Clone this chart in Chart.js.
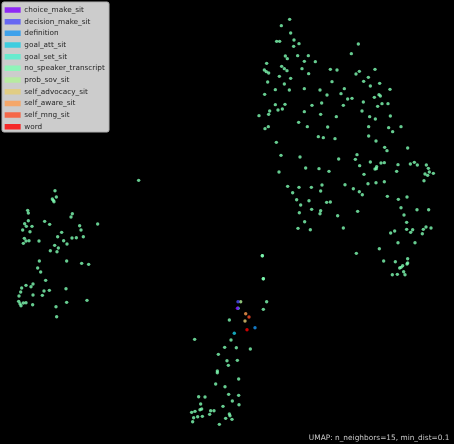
<!DOCTYPE html>
<html>
<head>
<meta charset="utf-8">
<script src="https://cdn.jsdelivr.net/npm/chart.js@4"></script>
<style>
html, body { margin: 0; padding: 0; background: #000; }
#wrap { width: 454px; height: 444px; }
</style>
</head>
<body>
<div id="wrap"><canvas id="umap"></canvas></div>
<script>
const categories = ['choice_make_sit', 'decision_make_sit', 'definition', 'goal_att_sit', 'goal_set_sit',
    'no_speaker_transcript', 'prob_sov_sit', 'self_advocacy_sit', 'self_aware_sit', 'self_mng_sit', 'word'];
const colors = ['#8000ff', '#4d4dfb', '#1996f3', '#18cde4', '#4df3ce', '#80ffb4', '#b2f396', '#e6cd73', '#ff9e50', '#ff4f28', '#ff0000'];

const choiceMake = [[237.4, 308.3]];
const decisionMake = [[238, 301.7]];
const definition = [[255, 327.7]];
const goalAtt = [[234.3, 333.3]];
const goalSet = [[238.1, 308.3]];
const probSov = [[240.7, 301.7]];
const selfAdvocacy = [[245, 321]];
const selfAware = [[245.7, 313.7]];
const selfMng = [[249, 317]];
const word = [[247, 329.7]];

const crop2 = [[119,58],[94,77],[122,99],[80,124],[89,124],[132,120],[147,131],[131,139],[325,132],[304,161],[106,168],[112,176],[143,167],[175,167],[163,184],[196,185],[50,190],[95,199],[103,206],[111,212],[156,206],[176,221],[43,210],[49,215],[56,219],[241,208],[261,210],[375,208],[328,214],[318,222],[88,229],[122,235],[355,232],[341,244],[53,246],[246,245],[103,252],[389,250],[361,258],[76,269],[118,270],[163,266],[210,270],[283,266],[420,268],[44,283],[231,285],[273,281],[387,284],[391,288],[373,292],[293,297],[306,295],[340,306],[215,309],[76,314],[105,313],[186,316],[280,316],[396,311],[414,311],[383,319],[97,327],[84,330],[59,333],[56,343],[27,347],[163,335],[212,343],[336,333],[259,350],[359,350],[421,348],[376,357],[146,367],[55,380],[45,386],[172,380],[233,381],[356,380],[416,383],[453,380],[428,395],[205,410],[220,413],[255,416],[356,408],[378,423],[79,427],[404,442],[473,444]];
const crop3 = [[411,32],[93,46],[150,51],[266,57],[321,44],[316,58],[361,66],[393,69],[403,68],[444,74],[481,72],[493,67],[502,75],[529,75],[535,85],[329,77],[380,80],[375,87],[379,86],[167,84],[207,86],[237,94],[87,96],[342,103],[440,94],[538,96],[550,100],[525,102],[533,106],[522,122],[113,139],[147,142],[184,142],[216,135],[285,134],[354,131],[378,128],[403,125],[212,153],[128,158],[310,146],[328,155],[337,164],[412,169],[445,178],[471,171],[140,179],[177,182],[230,187],[241,186],[152,195],[453,203],[185,208],[212,212],[148,218],[210,221],[323,214],[501,209],[536,209],[462,225],[263,227],[164,245],[470,247],[144,265],[181,269],[280,264],[470,268],[488,269],[482,277],[528,261],[520,268],[543,264],[517,281],[434,273],[422,279],[444,308],[495,308],[388,326],[319,340],[37,347],[473,356],[401,363],[436,365],[473,369],[471,372],[458,377],[453,382],[449,384],[461,395],[427,404],[442,403],[465,404],[40,416]];
const crop4 = [[416,31],[165,62],[169,81],[157,87],[160,91],[162,95],[83,121],[85,129],[217,131],[213,141],[85,152],[134,154],[149,163],[74,161],[79,169],[96,169],[239,167],[293,162],[68,180],[243,180],[90,185],[185,187],[173,200],[216,204],[229,203],[250,200],[73,205],[78,213],[87,212],[70,220],[117,213],[191,212],[201,222],[164,226],[175,234],[151,242],[171,245],[118,273],[200,273],[245,280],[266,283],[113,294],[122,306],[137,331],[78,346],[99,342],[93,350],[65,354],[62,366],[132,363],[148,361],[198,356],[57,378],[99,375],[127,376],[56,394],[60,401],[63,407],[70,399],[78,398],[98,404],[200,397],[261,391],[168,410],[170,440]];
const crop5 = [[247,17],[250,86],[260,155],[250,178],[148,210],[44,268],[153,270],[134,292],[169,293],[211,297]];
const crop6 = [[115,43],[141,62],[172,61],[145,76],[112,93],[112,98],[176,117],[107,132],[135,140],[146,163],[176,166],[56,170],[75,171],[157,183],[62,192],[177,194],[129,199],[65,207],[60,209],[92,212],[102,212],[45,214],[35,217],[89,223],[148,222],[150,227],[53,230],[67,229],[41,233],[137,235],[156,238],[38,245],[118,253]];

function fromCrop(list, left, top) {
    return list.map(p => ({ x: left + p[0] / 3, y: top + p[1] / 3 }));
}
function fromPairs(list) {
    return list.map(p => ({ x: p[0], y: p[1] }));
}

const noSpeaker = [].concat(
    fromCrop(crop2, 250, 0),
    fromCrop(crop3, 250, 140),
    fromCrop(crop4, 0, 170),
    fromCrop(crop5, 180, 250),
    fromCrop(crop6, 180, 340)
);

const seriesData = [fromPairs(choiceMake), fromPairs(decisionMake), fromPairs(definition), fromPairs(goalAtt), fromPairs(goalSet),
    noSpeaker, fromPairs(probSov), fromPairs(selfAdvocacy), fromPairs(selfAware), fromPairs(selfMng), fromPairs(word)];

const captionText = 'UMAP: n_neighbors=15, min_dist=0.1';

const legendBox = {
    id: 'legendBox',
    afterLayout(chart) {
        // chartArea legend sits in the corner, nudge it to where the reference has it
        chart.legend.left = 0.3;
        chart.legend.top = 2;
        const caption = chart.boxes.find(b => b.options && b.options.text === captionText);
        caption.right = 449.5;
    },
    beforeDraw(chart) {
        const c = chart.ctx;
        c.save();
        c.fillStyle = '#cccccc';
        c.strokeStyle = '#b0b0b0';
        c.beginPath();
        c.roundRect(2, 2, 107, 130, 2);
        c.fill();
        c.stroke();
        c.restore();
    }
};

Chart.defaults.animation = false;

new Chart(document.getElementById('umap'), {
    type: 'scatter',
    data: {
        datasets: categories.map((name, i) => ({
            label: name,
            data: seriesData[i],
            backgroundColor: colors[i],
            borderColor: colors[i],
            pointBackgroundColor: colors[i] + 'cc',
            pointBorderWidth: 0,
            pointRadius: 1.7
        }))
    },
    options: {
        responsive: true,
        maintainAspectRatio: false,
        layout: { padding: 0, autoPadding: false },
        scales: {
            x: { type: 'linear', min: 0, max: 454, display: false },
            y: { type: 'linear', min: 0, max: 433.6, reverse: true, display: false }
        },
        plugins: {
            tooltip: { enabled: false },
            title: { display: false },
            subtitle: {
                display: true,
                text: captionText,
                position: 'bottom',
                align: 'end',
                color: '#c8c8c8',
                font: { family: 'DejaVu Sans', size: 7.4 },
                padding: { top: 0, bottom: 1.5 }
            },
            legend: {
                position: 'chartArea',
                align: 'start',
                labels: {
                    color: '#262626',
                    font: { family: 'DejaVu Sans', size: 7.3 },
                    boxWidth: 16,
                    boxHeight: 5.5,
                    padding: 4.37
                }
            }
        }
    },
    plugins: [legendBox]
});
</script>
</body>
</html>
